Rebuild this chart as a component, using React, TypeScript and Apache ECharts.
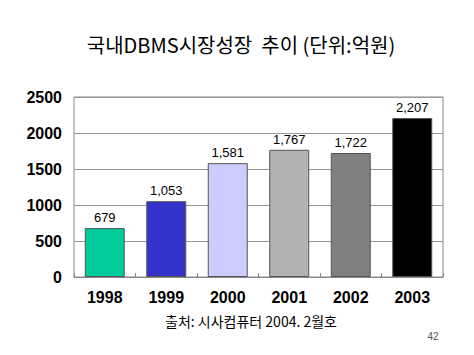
import React, { useEffect, useRef } from "react";
import * as echarts from "echarts";

const categories = ["1998", "1999", "2000", "2001", "2002", "2003"];
const values = [679, 1053, 1581, 1767, 1722, 2207];
const barColors = ["#00CC99", "#3333CC", "#CCCCFF", "#B2B2B2", "#808080", "#000000"];
const yTicks = [0, 500, 1000, 1500, 2000, 2500];

export default function App() {
  const ref = useRef<HTMLDivElement>(null);
  useEffect(() => {
    if (!ref.current) return;
    const chart = echarts.init(ref.current, null, { renderer: "svg" });
    chart.setOption({
      animation: false,
      backgroundColor: "#ffffff",
      title: [
        {
          text: "국내DBMS시장성장  추이 (단위:억원)",
          left: 236,
          top: 29,
          textAlign: "center",
          textStyle: {
            fontFamily: "'Noto Sans CJK KR', 'Liberation Sans', sans-serif",
            fontSize: 20,
            fontWeight: "normal",
            color: "#000",
          },
        },
        {
          text: "출처: 시사컴퓨터 2004. 2월호",
          left: 246,
          top: 309,
          textAlign: "center",
          textStyle: {
            fontFamily: "'Noto Sans CJK KR', 'Liberation Sans', sans-serif",
            fontSize: 14,
            fontWeight: "normal",
            color: "#000",
          },
        },
        {
          text: "42",
          left: 428,
          top: 326,
          textAlign: "center",
          textStyle: {
            fontFamily: "'Liberation Sans', sans-serif",
            fontSize: 10,
            fontWeight: "normal",
            color: "#555",
          },
        },
      ],
      grid: {
        left: 74,
        right: 31,
        top: 97,
        bottom: 78,
        show: true,
        borderColor: "#888",
        borderWidth: 1,
        containLabel: false,
      },
      xAxis: {
        type: "category",
        data: categories,
        axisLine: { show: true, lineStyle: { color: "#888" } },
        axisTick: { show: true, inside: true, length: 4, lineStyle: { color: "#888" } },
        axisLabel: {
          margin: 12,
          fontFamily: "'Liberation Sans', Arial, sans-serif",
          fontSize: 16,
          fontWeight: "bold",
          color: "#000",
        },
      },
      yAxis: {
        type: "value",
        min: 0,
        max: yTicks[yTicks.length - 1],
        interval: 500,
        axisLine: { show: false },
        axisTick: { show: false },
        splitLine: { show: true, lineStyle: { color: "#999", width: 1 } },
        axisLabel: {
          margin: 12,
          fontFamily: "'Liberation Sans', Arial, sans-serif",
          fontSize: 16,
          fontWeight: "bold",
          color: "#000",
          formatter: (v: number) => String(v),
        },
      },
      series: [
        {
          type: "bar",
          barWidth: "65%",
          data: values.map((v, i) => ({
            value: v,
            itemStyle: { color: barColors[i], borderColor: "#555", borderWidth: 1 },
          })),
          label: {
            show: true,
            position: "top",
            distance: 4,
            fontFamily: "'Liberation Sans', Arial, sans-serif",
            fontSize: 13,
            color: "#000",
            formatter: (p: any) => Number(p.value).toLocaleString("en-US"),
          },
        },
      ],
    });
    return () => chart.dispose();
  }, []);
  return (
    <div
      ref={ref}
      style={{ position: "fixed", left: 0, top: 0, width: 474, height: 355 }}
    />
  );
}
